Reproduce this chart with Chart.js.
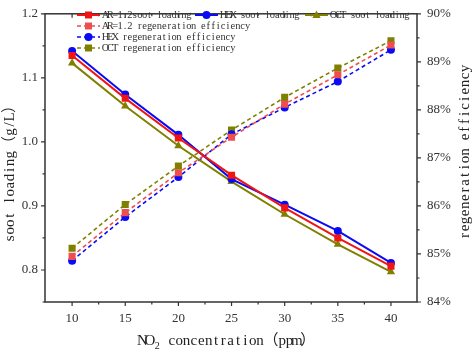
<!DOCTYPE html>
<html>
<head>
<meta charset="utf-8">
<script src="https://cdn.jsdelivr.net/npm/chart.js@4.4.1/dist/chart.umd.min.js"></script>
<style>
html, body { margin: 0; padding: 0; background: #fff; }
#wrap { width: 474px; height: 350px; }
</style>
</head>
<body>
<div id="wrap"><canvas id="chart"></canvas></div>
<script>
// NO2 concentration (ppm)
var no2 = [10, 15, 20, 25, 30, 35, 40];

// soot loading (g/L), left axis
var arSoot  = [1.135, 1.068, 1.006, 0.948, 0.897, 0.850, 0.806];
var hexSoot = [1.142, 1.074, 1.011, 0.942, 0.902, 0.861, 0.811];
var octSoot = [1.123, 1.056, 0.994, 0.938, 0.887, 0.840, 0.797];

// regeneration efficiency (%), right axis
var arEff  = [84.95, 85.86, 86.69, 87.43, 88.12, 88.73, 89.35];
var hexEff = [84.86, 85.77, 86.60, 87.49, 88.05, 88.59, 89.25];
var octEff = [85.12, 86.03, 86.83, 87.58, 88.26, 88.87, 89.44];

var seriesNames = ['AR=1.2soot loading', 'HEX soot loading', 'OCT soot loading',
                   'AR=1.2 regeneration efficiency', 'HEX regeneration efficiency', 'OCT regeneration efficiency'];

var xTicks = [10, 12.5, 15, 17.5, 20, 22.5, 25, 27.5, 30, 32.5, 35, 37.5, 40];
var sootTicks = [0.75, 0.8, 0.85, 0.9, 0.95, 1.0, 1.05, 1.1, 1.15, 1.2];
var effTicks = [84, 84.5, 85, 85.5, 86, 86.5, 87, 87.5, 88, 88.5, 89, 89.5, 90];

var RED = '#f01414', RED2 = 'rgb(238,78,78)', BLUE = '#0a0af5', OLIVE = '#808000';
var FONT = '"Liberation Serif", "Noto Sans CJK SC", serif';

function pts(ys) {
    return no2.map(function (x, i) { return { x: x, y: ys[i] }; });
}

function isMajor(v, step) {
    var k = v / step;
    return Math.abs(k - Math.round(k)) < 1e-6;
}

function setTicks(list) {
    return function (scale) {
        scale.ticks = list.map(function (v) { return { value: v }; });
    };
}

// draws text on a fixed pitch, full width chars take two cells (like SimSun)
function monoWidth(text, pitch) {
    var w = 0;
    for (var i = 0; i < text.length; i++) w += (text.charCodeAt(i) > 255 ? 2 : 1) * pitch;
    return w;
}
function drawMono(ctx, text, x, y, pitch) {
    ctx.textAlign = 'center';
    for (var i = 0; i < text.length; i++) {
        var cw = (text.charCodeAt(i) > 255 ? 2 : 1) * pitch;
        ctx.fillText(text[i], x + cw / 2, y);
        x += cw;
    }
    return x;
}

function drawMarker(ctx, style, x, y, color) {
    ctx.fillStyle = color;
    ctx.beginPath();
    if (style === 'rect') {
        ctx.rect(x - 3.5, y - 3.5, 7, 7);
    } else if (style === 'circle') {
        ctx.arc(x, y, 4, 0, Math.PI * 2);
    } else {
        ctx.moveTo(x, y - 4.4);
        ctx.lineTo(x + 4.2, y + 3);
        ctx.lineTo(x - 4.2, y + 3);
        ctx.closePath();
    }
    ctx.fill();
}

var legendPos = [
    { x: 77, y: 15 }, { x: 195, y: 15 }, { x: 305, y: 15 },
    { x: 77, y: 26 }, { x: 77, y: 37 }, { x: 77, y: 48 }
];

var frame = {
    id: 'frame',
    afterDraw: function (chart) {
        var ctx = chart.ctx, a = chart.chartArea;
        var sx = chart.scales.x, sy = chart.scales.y, sy1 = chart.scales.y1;
        ctx.save();

        // ticks
        ctx.strokeStyle = '#333';
        ctx.lineWidth = 1.2;
        ctx.beginPath();
        xTicks.forEach(function (v) {
            var px = sx.getPixelForValue(v), L = isMajor(v, 5) ? 4 : 2.5;
            ctx.moveTo(px, a.bottom); ctx.lineTo(px, a.bottom + L);
            ctx.moveTo(px, a.top); ctx.lineTo(px, a.top + L);
        });
        sootTicks.forEach(function (v) {
            var py = sy.getPixelForValue(v), L = isMajor(v, 0.1) ? 4 : 2.5;
            ctx.moveTo(a.left, py); ctx.lineTo(a.left - L, py);
        });
        effTicks.forEach(function (v) {
            var py = sy1.getPixelForValue(v), L = isMajor(v, 1) ? 4 : 2.5;
            ctx.moveTo(a.right, py); ctx.lineTo(a.right + L, py);
        });
        ctx.stroke();

        // frame
        ctx.lineWidth = 1.5;
        ctx.strokeRect(a.left, a.top, a.right - a.left, a.bottom - a.top);

        // axis titles
        ctx.fillStyle = '#222';
        ctx.textBaseline = 'alphabetic';
        ctx.font = '15px ' + FONT;
        var p = 7.35;
        var parts = ['NO', '2', ' concentration（ppm）'];
        var total = monoWidth(parts.join(''), p);
        var tx = 227 - total / 2, ty = 345;
        tx = drawMono(ctx, parts[0], tx, ty, p);
        ctx.font = '10px ' + FONT;
        tx = drawMono(ctx, parts[1], tx, ty + 4, p);
        ctx.font = '15px ' + FONT;
        drawMono(ctx, parts[2], tx, ty, p);

        var yp = 7.6;
        ctx.save();
        ctx.translate(14, 170);
        ctx.rotate(-Math.PI / 2);
        var t1 = 'soot loading（g/L）';
        drawMono(ctx, t1, -monoWidth(t1, yp) / 2, 0, yp);
        ctx.restore();

        ctx.save();
        ctx.translate(469, 152);
        ctx.rotate(-Math.PI / 2);
        var t2 = 'regeneration efficiency';
        drawMono(ctx, t2, -monoWidth(t2, yp) / 2, 0, yp);
        ctx.restore();

        // legend
        ctx.font = '10.5px ' + FONT;
        ctx.textBaseline = 'middle';
        chart.data.datasets.forEach(function (ds, i) {
            var lp = legendPos[i];
            ctx.strokeStyle = ds.borderColor;
            ctx.lineWidth = ds.borderWidth;
            ctx.setLineDash(ds.borderDash || []);
            ctx.beginPath();
            ctx.moveTo(lp.x, lp.y);
            ctx.lineTo(lp.x + 23, lp.y);
            ctx.stroke();
            ctx.setLineDash([]);
            drawMarker(ctx, ds.pointStyle, lp.x + 11.5, lp.y, ds.pointBackgroundColor);
            ctx.fillStyle = '#333';
            drawMono(ctx, ds.label, lp.x + 26, lp.y + 0.5, 4.9);
        });
        ctx.restore();
    }
};

function makeSet(i, ys, color, style, axis, dashed) {
    return {
        label: seriesNames[i],
        data: pts(ys),
        yAxisID: axis,
        borderColor: color,
        backgroundColor: color,
        pointBackgroundColor: color,
        pointBorderColor: color,
        pointBorderWidth: 0,
        borderWidth: dashed ? 1.6 : 2,
        borderDash: dashed ? [4, 3] : [],
        pointStyle: style,
        pointRadius: style === 'rect' ? 5 : (style === 'circle' ? 4 : 4.8),
        tension: 0,
        fill: false
    };
}

var ctx = document.getElementById('chart').getContext('2d');
var chart = new Chart(ctx, {
    type: 'line',
    data: {
        datasets: [
            makeSet(0, arSoot, RED, 'rect', 'y', false),
            makeSet(1, hexSoot, BLUE, 'circle', 'y', false),
            makeSet(2, octSoot, OLIVE, 'triangle', 'y', false),
            makeSet(3, arEff, RED2, 'rect', 'y1', true),
            makeSet(4, hexEff, BLUE, 'circle', 'y1', true),
            makeSet(5, octEff, OLIVE, 'rect', 'y1', true)
        ]
    },
    options: {
        responsive: true,
        maintainAspectRatio: false,
        animation: false,
        layout: { padding: { top: 5, left: 0, right: 0, bottom: 0 } },
        plugins: { legend: { display: false }, tooltip: { enabled: false } },
        scales: {
            x: {
                type: 'linear',
                min: 7.45,
                max: 42.45,
                afterBuildTicks: setTicks(xTicks),
                afterFit: function (s) { s.height = 48; },
                grid: { drawOnChartArea: false, tickLength: 4, tickColor: 'rgba(0,0,0,0)' },
                border: { display: false },
                ticks: {
                    autoSkip: false, maxRotation: 0, padding: 5,
                    color: '#333', font: { family: FONT, size: 13 },
                    callback: function (v) { return isMajor(v, 5) ? String(v) : ''; }
                }
            },
            y: {
                position: 'left',
                min: 0.75,
                max: 1.2,
                afterBuildTicks: setTicks(sootTicks),
                afterFit: function (s) { s.width = 45; },
                grid: { drawOnChartArea: false, tickLength: 4, tickColor: 'rgba(0,0,0,0)' },
                border: { display: false },
                ticks: {
                    autoSkip: false, padding: 3,
                    color: '#333', font: { family: FONT, size: 13 },
                    callback: function (v) { return isMajor(v, 0.1) ? v.toFixed(1) : ''; }
                }
            },
            y1: {
                position: 'right',
                min: 84,
                max: 90,
                afterBuildTicks: setTicks(effTicks),
                afterFit: function (s) { s.width = 57; },
                grid: { drawOnChartArea: false, tickLength: 4, tickColor: 'rgba(0,0,0,0)' },
                border: { display: false },
                ticks: {
                    autoSkip: false, padding: 6,
                    color: '#333', font: { family: FONT, size: 13 },
                    callback: function (v) { return isMajor(v, 1) ? v + '%' : ''; }
                }
            }
        }
    },
    plugins: [frame]
});
</script>
</body>
</html>
